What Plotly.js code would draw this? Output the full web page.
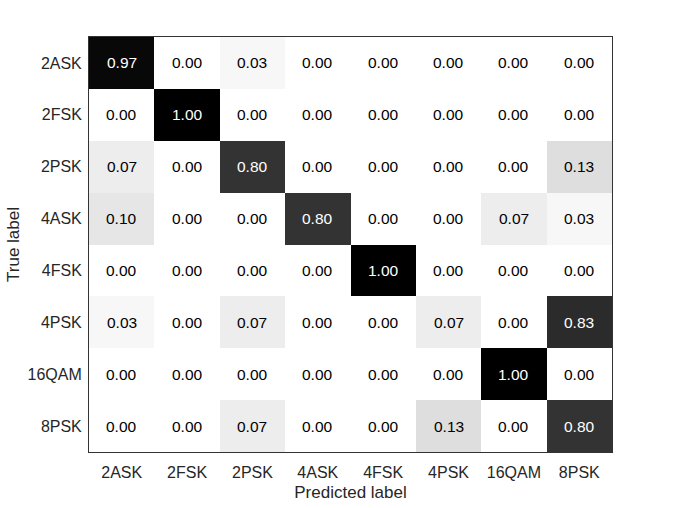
<!DOCTYPE html>
<html>
<head>
<meta charset="utf-8">
<script src="https://cdn.plot.ly/plotly-3.0.1.min.js"></script>
<style>
  html, body { margin: 0; padding: 0; background: #fff; }
  #chart { width: 677px; height: 508px; }
</style>
</head>
<body>
<div id="chart"></div>
<script>
// class names, same order on both axes
var labels = ['2ASK', '2FSK', '2PSK', '4ASK', '4FSK', '4PSK', '16QAM', '8PSK'];

// rows = true label, columns = predicted label
var row_2ask  = [0.97, 0.00, 0.03, 0.00, 0.00, 0.00, 0.00, 0.00];
var row_2fsk  = [0.00, 1.00, 0.00, 0.00, 0.00, 0.00, 0.00, 0.00];
var row_2psk  = [0.07, 0.00, 0.80, 0.00, 0.00, 0.00, 0.00, 0.13];
var row_4ask  = [0.10, 0.00, 0.00, 0.80, 0.00, 0.00, 0.07, 0.03];
var row_4fsk  = [0.00, 0.00, 0.00, 0.00, 1.00, 0.00, 0.00, 0.00];
var row_4psk  = [0.03, 0.00, 0.07, 0.00, 0.00, 0.07, 0.00, 0.83];
var row_16qam = [0.00, 0.00, 0.00, 0.00, 0.00, 0.00, 1.00, 0.00];
var row_8psk  = [0.00, 0.00, 0.07, 0.00, 0.00, 0.13, 0.00, 0.80];

var z = [row_2ask, row_2fsk, row_2psk, row_4ask, row_4fsk, row_4psk, row_16qam, row_8psk];

var font_family = '"Liberation Sans", Arial, sans-serif';

// cell numbers, white on the dark cells
var annotations = [];
for (var i = 0; i < labels.length; i++) {
    for (var j = 0; j < labels.length; j++) {
        var v = z[i][j];
        annotations.push({
            x: labels[j], y: labels[i],
            text: v.toFixed(2),
            showarrow: false,
            font: {family: font_family, size: 15.5, color: v > 0.5 ? '#ffffff' : '#000000'}
        });
    }
}

var data = [{
    type: 'heatmap',
    x: labels,
    y: labels,
    z: z,
    zmin: 0, zmax: 1,
    colorscale: [[0, '#ffffff'], [1, '#000000']],
    showscale: false,
    hoverinfo: 'x+y+z'
}];

var layout = {
    width: 677, height: 508,
    margin: {l: 89, r: 65, t: 37, b: 56},
    paper_bgcolor: '#ffffff',
    plot_bgcolor: '#ffffff',
    font: {family: font_family, size: 16, color: '#262626'},
    annotations: annotations,
    xaxis: {
        title: {text: 'Predicted label', standoff: 5, font: {size: 17}},
        showgrid: false, zeroline: false,
        ticks: '', ticklabelstandoff: 6,
        showline: true, mirror: true, linecolor: '#333333', linewidth: 1
    },
    yaxis: {
        title: {text: 'True label', standoff: 3, font: {size: 17}},
        autorange: 'reversed',
        showgrid: false, zeroline: false,
        ticks: '', ticklabelstandoff: 3,
        showline: true, mirror: true, linecolor: '#333333', linewidth: 1
    }
};

Plotly.newPlot('chart', data, layout, {displayModeBar: false});
</script>
</body>
</html>
